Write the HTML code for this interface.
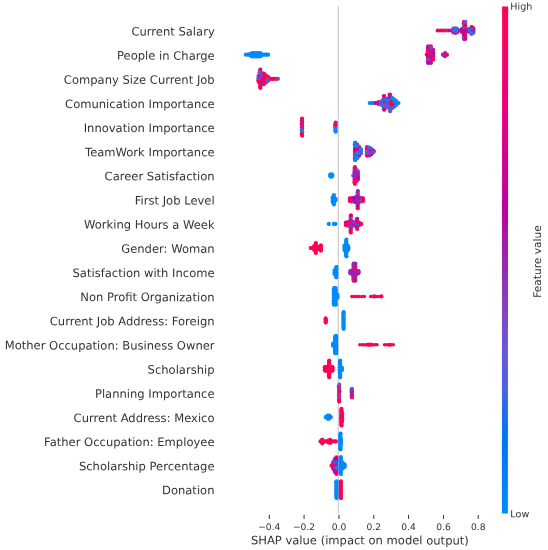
<!DOCTYPE html>
<html lang="en"><head><meta charset="utf-8"><title>SHAP summary plot</title>
<style>
html,body{margin:0;padding:0;background:#fff;}
body{width:548px;height:550px;overflow:hidden;}
svg{display:block;}
text{font-family:"DejaVu Sans","Liberation Sans",sans-serif;fill:#333;}
.lab{font-size:11.55px;text-anchor:end;}
.tick{font-size:9.15px;text-anchor:middle;}
.xl{font-size:11.55px;text-anchor:middle;}
.cb{font-size:9.6px;}
</style></head><body>
<svg width="548" height="550" viewBox="0 0 548 550">
<rect width="548" height="550" fill="#fff"/>
<defs><linearGradient id="cb" x1="0" y1="0" x2="0" y2="1"><stop offset="0%" stop-color="#ff0051"/><stop offset="5%" stop-color="#fe005c"/><stop offset="10%" stop-color="#f90067"/><stop offset="15%" stop-color="#f20072"/><stop offset="20%" stop-color="#e9007c"/><stop offset="25%" stop-color="#e00086"/><stop offset="30%" stop-color="#d5008f"/><stop offset="35%" stop-color="#c90098"/><stop offset="40%" stop-color="#bb00a0"/><stop offset="45%" stop-color="#ac16a7"/><stop offset="50%" stop-color="#9b24ad"/><stop offset="55%" stop-color="#9135ba"/><stop offset="60%" stop-color="#8443c6"/><stop offset="65%" stop-color="#754fd1"/><stop offset="70%" stop-color="#635adb"/><stop offset="75%" stop-color="#4b63e3"/><stop offset="80%" stop-color="#246cea"/><stop offset="85%" stop-color="#0075f0"/><stop offset="90%" stop-color="#007cf5"/><stop offset="95%" stop-color="#0084f9"/><stop offset="100%" stop-color="#008bfb"/></linearGradient></defs>
<line x1="338.25" y1="6.1" x2="338.25" y2="513.4" stroke="#999" stroke-width="1" opacity="0.62"/>
<g transform="rotate(0.03 274 275)">
<text class="lab" x="214.6" y="35.5">Current Salary</text>
<text class="lab" x="214.6" y="59.7">People in Charge</text>
<text class="lab" x="214.6" y="83.8">Company Size Current Job</text>
<text class="lab" x="214.6" y="108.0">Comunication Importance</text>
<text class="lab" x="214.6" y="132.1">Innovation Importance</text>
<text class="lab" x="214.6" y="156.3">TeamWork Importance</text>
<text class="lab" x="214.6" y="180.4">Career Satisfaction</text>
<text class="lab" x="214.6" y="204.6">First Job Level</text>
<text class="lab" x="214.6" y="228.7">Working Hours a Week</text>
<text class="lab" x="214.6" y="252.9">Gender: Woman</text>
<text class="lab" x="214.6" y="277.1">Satisfaction with Income</text>
<text class="lab" x="214.6" y="301.2">Non Profit Organization</text>
<text class="lab" x="214.6" y="325.4">Current Job Address: Foreign</text>
<text class="lab" x="214.6" y="349.5">Mother Occupation: Business Owner</text>
<text class="lab" x="214.6" y="373.7">Scholarship</text>
<text class="lab" x="214.6" y="397.8">Planning Importance</text>
<text class="lab" x="214.6" y="422.0">Current Address: Mexico</text>
<text class="lab" x="214.6" y="446.1">Father Occupation: Employee</text>
<text class="lab" x="214.6" y="470.3">Scholarship Percentage</text>
<text class="lab" x="214.6" y="494.4">Donation</text>
<line x1="269.4" y1="514.8" x2="269.4" y2="518.9" stroke="#333" stroke-width="1"/><text class="tick" x="269.4" y="530.0">−0.4</text>
<line x1="304.2" y1="514.8" x2="304.2" y2="518.9" stroke="#333" stroke-width="1"/><text class="tick" x="304.2" y="530.0">−0.2</text>
<line x1="339.1" y1="514.8" x2="339.1" y2="518.9" stroke="#333" stroke-width="1"/><text class="tick" x="339.1" y="530.0">0.0</text>
<line x1="373.9" y1="514.8" x2="373.9" y2="518.9" stroke="#333" stroke-width="1"/><text class="tick" x="373.9" y="530.0">0.2</text>
<line x1="408.7" y1="514.8" x2="408.7" y2="518.9" stroke="#333" stroke-width="1"/><text class="tick" x="408.7" y="530.0">0.4</text>
<line x1="443.6" y1="514.8" x2="443.6" y2="518.9" stroke="#333" stroke-width="1"/><text class="tick" x="443.6" y="530.0">0.6</text>
<line x1="478.4" y1="514.8" x2="478.4" y2="518.9" stroke="#333" stroke-width="1"/><text class="tick" x="478.4" y="530.0">0.8</text>
<text class="xl" x="360" y="544.3">SHAP value (impact on model output)</text>
<rect x="502" y="6.4" width="6" height="507.1" fill="url(#cb)"/>
<text class="cb" x="510.2" y="9.6">High</text>
<text class="cb" x="510.5" y="517.1">Low</text>
<text class="cb" style="font-size:10.62px;text-anchor:middle" transform="translate(540.9,261.4) rotate(-90)">Feature value</text>
</g>
<g style="filter:blur(0.35px)">
<circle cx="465.0" cy="23.6" r="2.10" fill="#9b24ad"/>
<circle cx="464.1" cy="25.3" r="2.10" fill="#6e53d5"/>
<circle cx="437.7" cy="30.5" r="2.10" fill="#ff0051"/>
<circle cx="467.0" cy="31.6" r="2.10" fill="#4b63e3"/>
<circle cx="464.1" cy="39.1" r="2.10" fill="#ff0051"/>
<circle cx="464.9" cy="27.1" r="2.10" fill="#ff0058"/>
<circle cx="464.9" cy="30.5" r="2.10" fill="#4b63e3"/>
<circle cx="461.8" cy="31.8" r="2.10" fill="#ff0058"/>
<circle cx="464.0" cy="32.2" r="2.10" fill="#e60080"/>
<circle cx="465.0" cy="33.9" r="2.10" fill="#ff0051"/>
<circle cx="463.7" cy="37.4" r="2.10" fill="#8443c6"/>
<circle cx="462.0" cy="29.2" r="2.10" fill="#bb00a0"/>
<circle cx="465.2" cy="39.1" r="2.10" fill="#9b24ad"/>
<circle cx="465.3" cy="28.8" r="2.10" fill="#8443c6"/>
<circle cx="463.7" cy="30.5" r="2.10" fill="#9b24ad"/>
<circle cx="442.6" cy="30.5" r="2.10" fill="#9b24ad"/>
<circle cx="467.1" cy="29.4" r="2.10" fill="#ff0051"/>
<circle cx="467.0" cy="30.5" r="2.10" fill="#9b24ad"/>
<circle cx="463.7" cy="23.6" r="2.10" fill="#4b63e3"/>
<circle cx="459.9" cy="30.5" r="2.10" fill="#9b24ad"/>
<circle cx="447.4" cy="30.5" r="2.10" fill="#4b63e3"/>
<circle cx="461.9" cy="30.5" r="2.10" fill="#bb00a0"/>
<circle cx="458.5" cy="30.5" r="2.10" fill="#ff0051"/>
<circle cx="465.0" cy="37.4" r="2.10" fill="#bb00a0"/>
<circle cx="464.0" cy="28.8" r="2.10" fill="#bb00a0"/>
<circle cx="445.0" cy="30.5" r="2.10" fill="#ff0051"/>
<circle cx="464.1" cy="35.7" r="2.10" fill="#6e53d5"/>
<circle cx="449.5" cy="30.5" r="2.10" fill="#d00093"/>
<circle cx="464.0" cy="21.9" r="2.10" fill="#ff0051"/>
<circle cx="463.8" cy="27.1" r="2.10" fill="#4b63e3"/>
<circle cx="465.2" cy="35.7" r="2.10" fill="#ff0051"/>
<circle cx="440.1" cy="30.5" r="2.10" fill="#ff0051"/>
<circle cx="465.3" cy="21.9" r="2.10" fill="#6e53d5"/>
<circle cx="465.2" cy="25.3" r="2.10" fill="#ff0051"/>
<circle cx="463.7" cy="33.9" r="2.10" fill="#bb00a0"/>
<circle cx="465.3" cy="32.2" r="2.10" fill="#d00093"/>
<circle cx="452.3" cy="30.5" r="2.10" fill="#9b24ad"/>
<circle cx="453.4" cy="28.5" r="2.10" fill="#9135ba"/>
<circle cx="453.4" cy="32.5" r="2.10" fill="#f90067"/>
<circle cx="455.4" cy="28.3" r="2.10" fill="#754fd1"/>
<circle cx="455.2" cy="32.8" r="2.10" fill="#9b24ad"/>
<circle cx="457.0" cy="28.9" r="2.10" fill="#8443c6"/>
<circle cx="457.0" cy="32.4" r="2.10" fill="#f90067"/>
<circle cx="454.5" cy="30.5" r="2.10" fill="#635adb"/>
<circle cx="456.2" cy="30.9" r="2.10" fill="#008bfb"/>
<circle cx="455.3" cy="29.9" r="2.10" fill="#0084f9"/>
<circle cx="469.6" cy="29.0" r="2.10" fill="#8443c6"/>
<circle cx="469.6" cy="32.1" r="2.10" fill="#9135ba"/>
<circle cx="471.5" cy="27.1" r="2.10" fill="#9b24ad"/>
<circle cx="471.5" cy="33.9" r="2.10" fill="#8443c6"/>
<circle cx="473.4" cy="28.5" r="2.10" fill="#f90067"/>
<circle cx="473.4" cy="32.7" r="2.10" fill="#754fd1"/>
<circle cx="472.6" cy="27.7" r="2.10" fill="#ff0051"/>
<circle cx="470.6" cy="30.8" r="2.10" fill="#008bfb"/>
<circle cx="472.2" cy="32.7" r="2.10" fill="#008bfb"/>
<circle cx="471.8" cy="30.0" r="2.10" fill="#007cf5"/>
<circle cx="473.5" cy="30.7" r="2.10" fill="#9b24ad"/>
<circle cx="250.4" cy="54.7" r="2.10" fill="#008bfb"/>
<circle cx="433.2" cy="53.0" r="2.10" fill="#ff0051"/>
<circle cx="250.4" cy="53.8" r="2.10" fill="#0086fa"/>
<circle cx="428.2" cy="56.3" r="2.10" fill="#ff0051"/>
<circle cx="258.5" cy="54.7" r="2.10" fill="#008bfb"/>
<circle cx="268.1" cy="54.7" r="2.10" fill="#008bfb"/>
<circle cx="264.5" cy="54.7" r="2.10" fill="#008bfb"/>
<circle cx="428.2" cy="46.4" r="2.10" fill="#9b24ad"/>
<circle cx="260.6" cy="56.2" r="2.10" fill="#008bfb"/>
<circle cx="426.8" cy="54.7" r="2.10" fill="#ff0051"/>
<circle cx="262.5" cy="54.7" r="2.10" fill="#008bfb"/>
<circle cx="430.7" cy="58.0" r="2.10" fill="#ff0051"/>
<circle cx="252.4" cy="53.0" r="2.10" fill="#008bfb"/>
<circle cx="256.5" cy="53.0" r="2.10" fill="#008bfb"/>
<circle cx="258.5" cy="53.0" r="2.10" fill="#008bfb"/>
<circle cx="433.0" cy="54.7" r="2.10" fill="#bb00a0"/>
<circle cx="250.5" cy="55.6" r="2.10" fill="#008bfb"/>
<circle cx="256.5" cy="56.4" r="2.10" fill="#0086fa"/>
<circle cx="260.4" cy="53.2" r="2.10" fill="#008bfb"/>
<circle cx="431.0" cy="59.7" r="2.10" fill="#9b24ad"/>
<circle cx="442.9" cy="54.7" r="2.10" fill="#9b24ad"/>
<circle cx="260.5" cy="54.7" r="2.10" fill="#008bfb"/>
<circle cx="252.5" cy="56.4" r="2.10" fill="#008bfb"/>
<circle cx="258.6" cy="56.4" r="2.10" fill="#008bfb"/>
<circle cx="432.9" cy="51.4" r="2.10" fill="#bb00a0"/>
<circle cx="427.9" cy="51.4" r="2.10" fill="#ff0051"/>
<circle cx="427.9" cy="61.3" r="2.10" fill="#9b24ad"/>
<circle cx="430.9" cy="46.4" r="2.10" fill="#ff0051"/>
<circle cx="430.9" cy="63.0" r="2.10" fill="#9b24ad"/>
<circle cx="427.8" cy="58.0" r="2.10" fill="#ff0051"/>
<circle cx="427.8" cy="48.0" r="2.10" fill="#bb00a0"/>
<circle cx="256.4" cy="54.7" r="2.10" fill="#008bfb"/>
<circle cx="428.1" cy="49.7" r="2.10" fill="#ff0058"/>
<circle cx="430.6" cy="61.3" r="2.10" fill="#e60080"/>
<circle cx="428.2" cy="59.7" r="2.10" fill="#8443c6"/>
<circle cx="252.6" cy="54.7" r="2.10" fill="#0086fa"/>
<circle cx="245.9" cy="54.7" r="2.10" fill="#008bfb"/>
<circle cx="432.9" cy="57.9" r="2.10" fill="#bb00a0"/>
<circle cx="433.2" cy="59.6" r="2.10" fill="#ff0051"/>
<circle cx="431.0" cy="53.0" r="2.10" fill="#ff0058"/>
<circle cx="428.2" cy="63.0" r="2.10" fill="#bb00a0"/>
<circle cx="433.3" cy="49.8" r="2.10" fill="#9b24ad"/>
<circle cx="266.5" cy="54.7" r="2.10" fill="#0086fa"/>
<circle cx="430.9" cy="56.3" r="2.10" fill="#bb00a0"/>
<circle cx="427.8" cy="54.7" r="2.10" fill="#bb00a0"/>
<circle cx="430.9" cy="49.7" r="2.10" fill="#ff0051"/>
<circle cx="430.7" cy="51.4" r="2.10" fill="#9b24ad"/>
<circle cx="433.2" cy="56.3" r="2.10" fill="#e60080"/>
<circle cx="430.6" cy="54.7" r="2.10" fill="#9b24ad"/>
<circle cx="428.1" cy="53.0" r="2.10" fill="#ff0051"/>
<circle cx="430.6" cy="48.0" r="2.10" fill="#8443c6"/>
<circle cx="254.5" cy="54.7" r="2.10" fill="#0086fa"/>
<circle cx="248.1" cy="54.7" r="2.10" fill="#008bfb"/>
<circle cx="254.6" cy="53.0" r="2.10" fill="#008bfb"/>
<circle cx="446.9" cy="54.7" r="2.10" fill="#ff0051"/>
<circle cx="254.5" cy="56.4" r="2.10" fill="#008bfb"/>
<circle cx="445.1" cy="53.2" r="2.10" fill="#ff0051"/>
<circle cx="445.0" cy="54.7" r="2.10" fill="#9b24ad"/>
<circle cx="445.0" cy="56.2" r="2.10" fill="#f90067"/>
<circle cx="444.2" cy="55.0" r="2.10" fill="#9b24ad"/>
<circle cx="263.5" cy="82.8" r="2.10" fill="#ff0051"/>
<circle cx="265.7" cy="80.6" r="2.10" fill="#ff0051"/>
<circle cx="262.1" cy="81.6" r="2.10" fill="#ff0051"/>
<circle cx="265.9" cy="75.3" r="2.10" fill="#ff0058"/>
<circle cx="263.6" cy="74.9" r="2.10" fill="#ff0051"/>
<circle cx="263.8" cy="78.8" r="2.10" fill="#ff0051"/>
<circle cx="261.8" cy="74.7" r="2.10" fill="#ff0051"/>
<circle cx="258.5" cy="80.3" r="2.10" fill="#ff0051"/>
<circle cx="262.1" cy="73.3" r="2.10" fill="#ff0051"/>
<circle cx="260.0" cy="77.3" r="2.10" fill="#ff0058"/>
<circle cx="263.5" cy="80.2" r="2.10" fill="#ff0051"/>
<circle cx="260.4" cy="81.9" r="2.10" fill="#ff0051"/>
<circle cx="270.5" cy="78.8" r="2.10" fill="#ff0051"/>
<circle cx="266.0" cy="82.3" r="2.10" fill="#ff0051"/>
<circle cx="260.0" cy="80.4" r="2.10" fill="#ff0051"/>
<circle cx="260.4" cy="78.8" r="2.10" fill="#ff0051"/>
<circle cx="268.3" cy="77.1" r="2.10" fill="#ff0051"/>
<circle cx="263.9" cy="73.5" r="2.10" fill="#ff0051"/>
<circle cx="262.1" cy="78.8" r="2.10" fill="#ff0051"/>
<circle cx="272.5" cy="78.8" r="2.10" fill="#ff0051"/>
<circle cx="261.9" cy="80.2" r="2.10" fill="#ff0051"/>
<circle cx="265.6" cy="77.1" r="2.10" fill="#ff0058"/>
<circle cx="268.2" cy="80.5" r="2.10" fill="#ff0051"/>
<circle cx="261.8" cy="83.0" r="2.10" fill="#ff0051"/>
<circle cx="262.2" cy="76.1" r="2.10" fill="#ff0051"/>
<circle cx="260.3" cy="75.8" r="2.10" fill="#ff0051"/>
<circle cx="260.1" cy="71.2" r="2.10" fill="#ff0051"/>
<circle cx="263.5" cy="77.5" r="2.10" fill="#ff0058"/>
<circle cx="258.7" cy="77.4" r="2.10" fill="#ff0051"/>
<circle cx="274.4" cy="78.8" r="2.10" fill="#ff0051"/>
<circle cx="276.3" cy="78.8" r="2.10" fill="#ff0051"/>
<circle cx="268.3" cy="78.8" r="2.10" fill="#ff0051"/>
<circle cx="260.4" cy="85.0" r="2.10" fill="#ff0051"/>
<circle cx="263.8" cy="81.5" r="2.10" fill="#ff0051"/>
<circle cx="258.5" cy="78.8" r="2.10" fill="#ff0051"/>
<circle cx="260.0" cy="74.2" r="2.10" fill="#9b24ad"/>
<circle cx="260.4" cy="88.0" r="2.10" fill="#ff0058"/>
<circle cx="262.2" cy="84.3" r="2.10" fill="#ff0051"/>
<circle cx="263.8" cy="84.1" r="2.10" fill="#ff0051"/>
<circle cx="261.8" cy="77.5" r="2.10" fill="#ff0051"/>
<circle cx="258.7" cy="75.9" r="2.10" fill="#ff0058"/>
<circle cx="263.9" cy="76.2" r="2.10" fill="#ff0051"/>
<circle cx="260.3" cy="72.7" r="2.10" fill="#9b24ad"/>
<circle cx="277.9" cy="78.8" r="2.10" fill="#8443c6"/>
<circle cx="258.6" cy="81.7" r="2.10" fill="#ff0051"/>
<circle cx="260.1" cy="83.4" r="2.10" fill="#ff0051"/>
<circle cx="265.9" cy="78.8" r="2.10" fill="#ff0058"/>
<circle cx="260.3" cy="69.6" r="2.10" fill="#ff0051"/>
<circle cx="260.1" cy="86.5" r="2.10" fill="#ff0058"/>
<circle cx="258.8" cy="78.0" r="2.10" fill="#008bfb"/>
<circle cx="259.6" cy="72.3" r="2.10" fill="#635adb"/>
<circle cx="260.6" cy="74.6" r="2.10" fill="#754fd1"/>
<circle cx="260.3" cy="77.3" r="2.10" fill="#9135ba"/>
<circle cx="268.0" cy="79.1" r="2.10" fill="#8443c6"/>
<circle cx="267.6" cy="80.8" r="2.10" fill="#635adb"/>
<circle cx="261.0" cy="84.3" r="2.10" fill="#9b24ad"/>
<circle cx="385.7" cy="100.1" r="2.10" fill="#0086fa"/>
<circle cx="396.2" cy="104.9" r="2.10" fill="#008bfb"/>
<circle cx="390.3" cy="94.8" r="2.10" fill="#008bfb"/>
<circle cx="389.9" cy="103.0" r="2.10" fill="#0086fa"/>
<circle cx="396.1" cy="103.0" r="2.10" fill="#008bfb"/>
<circle cx="390.2" cy="98.1" r="2.10" fill="#bb00a0"/>
<circle cx="384.1" cy="109.6" r="2.10" fill="#9b24ad"/>
<circle cx="383.8" cy="98.1" r="2.10" fill="#4b63e3"/>
<circle cx="385.7" cy="105.9" r="2.10" fill="#0086fa"/>
<circle cx="378.7" cy="103.9" r="2.10" fill="#ff0058"/>
<circle cx="390.2" cy="111.2" r="2.10" fill="#6e53d5"/>
<circle cx="382.4" cy="100.6" r="2.10" fill="#008bfb"/>
<circle cx="385.9" cy="104.5" r="2.10" fill="#4b63e3"/>
<circle cx="390.0" cy="99.7" r="2.10" fill="#0086fa"/>
<circle cx="374.1" cy="103.0" r="2.10" fill="#ff0051"/>
<circle cx="369.8" cy="103.0" r="2.10" fill="#008bfb"/>
<circle cx="392.4" cy="101.4" r="2.10" fill="#4b63e3"/>
<circle cx="390.2" cy="107.9" r="2.10" fill="#008bfb"/>
<circle cx="384.2" cy="99.7" r="2.10" fill="#6e53d5"/>
<circle cx="392.1" cy="106.3" r="2.10" fill="#6e53d5"/>
<circle cx="388.0" cy="98.6" r="2.10" fill="#bb00a0"/>
<circle cx="376.3" cy="103.0" r="2.10" fill="#bb00a0"/>
<circle cx="390.3" cy="101.4" r="2.10" fill="#8443c6"/>
<circle cx="389.9" cy="106.3" r="2.10" fill="#ff0051"/>
<circle cx="383.8" cy="108.0" r="2.10" fill="#0086fa"/>
<circle cx="392.1" cy="99.7" r="2.10" fill="#ff0051"/>
<circle cx="394.0" cy="104.7" r="2.10" fill="#008bfb"/>
<circle cx="382.4" cy="103.0" r="2.10" fill="#ff0058"/>
<circle cx="380.6" cy="103.0" r="2.10" fill="#ff0051"/>
<circle cx="383.8" cy="101.4" r="2.10" fill="#6e53d5"/>
<circle cx="385.8" cy="101.6" r="2.10" fill="#008bfb"/>
<circle cx="380.6" cy="103.9" r="2.10" fill="#4b63e3"/>
<circle cx="394.3" cy="106.4" r="2.10" fill="#008bfb"/>
<circle cx="390.3" cy="104.7" r="2.10" fill="#4b63e3"/>
<circle cx="392.0" cy="103.0" r="2.10" fill="#8443c6"/>
<circle cx="398.4" cy="103.0" r="2.10" fill="#0086fa"/>
<circle cx="385.8" cy="103.0" r="2.10" fill="#6e53d5"/>
<circle cx="384.1" cy="103.0" r="2.10" fill="#ff0051"/>
<circle cx="387.7" cy="100.1" r="2.10" fill="#008bfb"/>
<circle cx="387.7" cy="105.9" r="2.10" fill="#0086fa"/>
<circle cx="378.6" cy="102.1" r="2.10" fill="#ff0058"/>
<circle cx="392.4" cy="107.9" r="2.10" fill="#6e53d5"/>
<circle cx="394.3" cy="103.0" r="2.10" fill="#6e53d5"/>
<circle cx="372.1" cy="103.0" r="2.10" fill="#0086fa"/>
<circle cx="387.7" cy="103.0" r="2.10" fill="#6e53d5"/>
<circle cx="378.7" cy="103.0" r="2.10" fill="#9b24ad"/>
<circle cx="384.1" cy="106.3" r="2.10" fill="#4b63e3"/>
<circle cx="382.3" cy="105.4" r="2.10" fill="#008bfb"/>
<circle cx="390.0" cy="96.5" r="2.10" fill="#9b24ad"/>
<circle cx="380.6" cy="102.1" r="2.10" fill="#4b63e3"/>
<circle cx="392.4" cy="104.6" r="2.10" fill="#9b24ad"/>
<circle cx="394.4" cy="99.6" r="2.10" fill="#008bfb"/>
<circle cx="394.1" cy="101.3" r="2.10" fill="#4b63e3"/>
<circle cx="387.9" cy="101.5" r="2.10" fill="#0086fa"/>
<circle cx="396.2" cy="101.1" r="2.10" fill="#008bfb"/>
<circle cx="388.0" cy="107.4" r="2.10" fill="#6e53d5"/>
<circle cx="392.3" cy="98.1" r="2.10" fill="#008bfb"/>
<circle cx="383.8" cy="104.7" r="2.10" fill="#6e53d5"/>
<circle cx="388.0" cy="104.5" r="2.10" fill="#4b63e3"/>
<circle cx="390.0" cy="109.6" r="2.10" fill="#4b63e3"/>
<circle cx="384.1" cy="96.4" r="2.10" fill="#6e53d5"/>
<circle cx="390.3" cy="103.3" r="2.10" fill="#ff0051"/>
<circle cx="391.2" cy="103.8" r="2.10" fill="#fe005c"/>
<circle cx="384.0" cy="96.0" r="2.10" fill="#f90067"/>
<circle cx="389.6" cy="94.5" r="2.10" fill="#e9007c"/>
<circle cx="384.3" cy="109.5" r="2.10" fill="#f90067"/>
<circle cx="302.1" cy="118.7" r="2.10" fill="#ff0051"/>
<circle cx="301.9" cy="120.4" r="2.10" fill="#ff0051"/>
<circle cx="302.2" cy="122.1" r="2.10" fill="#ac16a7"/>
<circle cx="301.8" cy="123.8" r="2.10" fill="#9b24ad"/>
<circle cx="302.2" cy="125.5" r="2.10" fill="#ff0051"/>
<circle cx="301.9" cy="127.2" r="2.10" fill="#ff0051"/>
<circle cx="302.2" cy="128.9" r="2.10" fill="#9135ba"/>
<circle cx="301.8" cy="130.6" r="2.10" fill="#007cf5"/>
<circle cx="302.1" cy="132.3" r="2.10" fill="#008bfb"/>
<circle cx="301.8" cy="134.0" r="2.10" fill="#ff0051"/>
<circle cx="302.2" cy="135.7" r="2.10" fill="#ff0051"/>
<circle cx="335.7" cy="122.7" r="2.10" fill="#9b24ad"/>
<circle cx="335.3" cy="124.2" r="2.10" fill="#9b24ad"/>
<circle cx="335.6" cy="125.7" r="2.10" fill="#ff0051"/>
<circle cx="335.3" cy="127.2" r="2.10" fill="#fe005c"/>
<circle cx="335.6" cy="128.7" r="2.10" fill="#008bfb"/>
<circle cx="335.3" cy="130.2" r="2.10" fill="#008bfb"/>
<circle cx="335.7" cy="131.7" r="2.10" fill="#008bfb"/>
<circle cx="361.0" cy="153.5" r="2.10" fill="#4b63e3"/>
<circle cx="367.1" cy="155.7" r="2.10" fill="#ff0051"/>
<circle cx="357.1" cy="144.5" r="2.10" fill="#ff0051"/>
<circle cx="358.8" cy="148.4" r="2.10" fill="#008bfb"/>
<circle cx="355.1" cy="146.2" r="2.10" fill="#008bfb"/>
<circle cx="356.9" cy="156.5" r="2.10" fill="#6e53d5"/>
<circle cx="354.9" cy="151.4" r="2.10" fill="#0086fa"/>
<circle cx="367.1" cy="147.1" r="2.10" fill="#ff0058"/>
<circle cx="369.2" cy="155.3" r="2.10" fill="#ff0051"/>
<circle cx="358.8" cy="151.4" r="2.10" fill="#008bfb"/>
<circle cx="370.9" cy="148.5" r="2.10" fill="#ff0058"/>
<circle cx="368.8" cy="149.4" r="2.10" fill="#ff0051"/>
<circle cx="361.0" cy="151.4" r="2.10" fill="#6e53d5"/>
<circle cx="371.0" cy="152.8" r="2.10" fill="#ff0051"/>
<circle cx="354.9" cy="147.9" r="2.10" fill="#008bfb"/>
<circle cx="366.9" cy="148.5" r="2.10" fill="#9b24ad"/>
<circle cx="354.8" cy="144.5" r="2.10" fill="#6e53d5"/>
<circle cx="354.9" cy="158.2" r="2.10" fill="#9b24ad"/>
<circle cx="357.2" cy="147.9" r="2.10" fill="#6e53d5"/>
<circle cx="367.1" cy="149.9" r="2.10" fill="#ff0051"/>
<circle cx="359.1" cy="149.9" r="2.10" fill="#6e53d5"/>
<circle cx="357.1" cy="154.8" r="2.10" fill="#6e53d5"/>
<circle cx="358.9" cy="154.3" r="2.10" fill="#008bfb"/>
<circle cx="366.9" cy="154.2" r="2.10" fill="#ff0058"/>
<circle cx="357.1" cy="151.4" r="2.10" fill="#8443c6"/>
<circle cx="370.9" cy="149.9" r="2.10" fill="#4b63e3"/>
<circle cx="359.1" cy="155.8" r="2.10" fill="#9b24ad"/>
<circle cx="359.2" cy="147.0" r="2.10" fill="#ff0051"/>
<circle cx="355.1" cy="160.0" r="2.10" fill="#6e53d5"/>
<circle cx="373.8" cy="151.4" r="2.10" fill="#ff0051"/>
<circle cx="367.1" cy="152.8" r="2.10" fill="#8443c6"/>
<circle cx="371.1" cy="154.3" r="2.10" fill="#bb00a0"/>
<circle cx="369.1" cy="151.4" r="2.10" fill="#bb00a0"/>
<circle cx="355.2" cy="142.8" r="2.10" fill="#6e53d5"/>
<circle cx="356.8" cy="149.6" r="2.10" fill="#ff0058"/>
<circle cx="373.1" cy="151.4" r="2.10" fill="#4b63e3"/>
<circle cx="359.1" cy="152.8" r="2.10" fill="#6e53d5"/>
<circle cx="356.8" cy="146.2" r="2.10" fill="#008bfb"/>
<circle cx="369.2" cy="147.5" r="2.10" fill="#4b63e3"/>
<circle cx="373.0" cy="150.3" r="2.10" fill="#9b24ad"/>
<circle cx="357.1" cy="158.3" r="2.10" fill="#008bfb"/>
<circle cx="355.2" cy="149.6" r="2.10" fill="#bb00a0"/>
<circle cx="355.2" cy="153.1" r="2.10" fill="#ff0051"/>
<circle cx="354.8" cy="154.8" r="2.10" fill="#8443c6"/>
<circle cx="371.0" cy="151.4" r="2.10" fill="#9b24ad"/>
<circle cx="361.0" cy="149.3" r="2.10" fill="#008bfb"/>
<circle cx="373.1" cy="152.5" r="2.10" fill="#8443c6"/>
<circle cx="366.8" cy="151.4" r="2.10" fill="#6e53d5"/>
<circle cx="356.8" cy="153.1" r="2.10" fill="#008bfb"/>
<circle cx="368.9" cy="153.3" r="2.10" fill="#8443c6"/>
<circle cx="355.1" cy="156.5" r="2.10" fill="#8443c6"/>
<circle cx="355.3" cy="159.7" r="2.10" fill="#008bfb"/>
<circle cx="356.5" cy="157.9" r="2.10" fill="#008bfb"/>
<circle cx="355.2" cy="142.9" r="2.10" fill="#0084f9"/>
<circle cx="356.5" cy="171.9" r="2.10" fill="#8443c6"/>
<circle cx="358.1" cy="179.4" r="2.10" fill="#6e53d5"/>
<circle cx="358.1" cy="175.5" r="2.10" fill="#8443c6"/>
<circle cx="356.5" cy="175.5" r="2.10" fill="#bb00a0"/>
<circle cx="356.5" cy="179.1" r="2.10" fill="#4b63e3"/>
<circle cx="356.8" cy="173.7" r="2.10" fill="#6e53d5"/>
<circle cx="353.3" cy="175.5" r="2.10" fill="#8443c6"/>
<circle cx="356.7" cy="180.9" r="2.10" fill="#ff0051"/>
<circle cx="356.8" cy="177.3" r="2.10" fill="#9b24ad"/>
<circle cx="356.7" cy="170.1" r="2.10" fill="#8443c6"/>
<circle cx="358.2" cy="171.6" r="2.10" fill="#4b63e3"/>
<circle cx="357.9" cy="173.6" r="2.10" fill="#9b24ad"/>
<circle cx="357.8" cy="177.5" r="2.10" fill="#bb00a0"/>
<circle cx="354.9" cy="167.2" r="2.10" fill="#ff0051"/>
<circle cx="354.6" cy="168.9" r="2.10" fill="#ff0051"/>
<circle cx="354.8" cy="170.5" r="2.10" fill="#9b24ad"/>
<circle cx="354.5" cy="172.2" r="2.10" fill="#9b24ad"/>
<circle cx="354.8" cy="173.9" r="2.10" fill="#ac16a7"/>
<circle cx="354.5" cy="175.5" r="2.10" fill="#9135ba"/>
<circle cx="354.9" cy="177.2" r="2.10" fill="#9b24ad"/>
<circle cx="354.5" cy="178.8" r="2.10" fill="#9b24ad"/>
<circle cx="354.8" cy="180.5" r="2.10" fill="#f90067"/>
<circle cx="354.5" cy="182.2" r="2.10" fill="#ff0051"/>
<circle cx="354.9" cy="183.8" r="2.10" fill="#ff0051"/>
<circle cx="331.2" cy="175.5" r="3.15" fill="#008bfb"/>
<circle cx="335.4" cy="199.7" r="2.10" fill="#008bfb"/>
<circle cx="332.8" cy="199.7" r="2.10" fill="#008bfb"/>
<circle cx="359.6" cy="198.6" r="2.10" fill="#9b24ad"/>
<circle cx="335.5" cy="198.8" r="2.10" fill="#008bfb"/>
<circle cx="359.6" cy="200.7" r="2.10" fill="#bb00a0"/>
<circle cx="332.7" cy="197.3" r="2.10" fill="#008bfb"/>
<circle cx="355.8" cy="198.4" r="2.10" fill="#9b24ad"/>
<circle cx="333.7" cy="202.8" r="2.10" fill="#0086fa"/>
<circle cx="351.8" cy="199.7" r="2.10" fill="#8443c6"/>
<circle cx="355.7" cy="200.9" r="2.10" fill="#bb00a0"/>
<circle cx="332.7" cy="200.9" r="2.10" fill="#008bfb"/>
<circle cx="351.9" cy="201.4" r="2.10" fill="#d00093"/>
<circle cx="351.8" cy="198.0" r="2.10" fill="#8443c6"/>
<circle cx="332.8" cy="198.5" r="2.10" fill="#008bfb"/>
<circle cx="353.8" cy="201.4" r="2.10" fill="#8443c6"/>
<circle cx="355.8" cy="202.2" r="2.10" fill="#bb00a0"/>
<circle cx="333.9" cy="201.3" r="2.10" fill="#008bfb"/>
<circle cx="332.8" cy="202.1" r="2.10" fill="#0086fa"/>
<circle cx="353.7" cy="199.7" r="2.10" fill="#bb00a0"/>
<circle cx="355.9" cy="197.2" r="2.10" fill="#bb00a0"/>
<circle cx="333.9" cy="195.0" r="2.10" fill="#008bfb"/>
<circle cx="361.4" cy="201.4" r="2.10" fill="#8443c6"/>
<circle cx="335.4" cy="200.6" r="2.10" fill="#0086fa"/>
<circle cx="333.6" cy="196.6" r="2.10" fill="#008bfb"/>
<circle cx="359.5" cy="197.6" r="2.10" fill="#8443c6"/>
<circle cx="355.8" cy="199.7" r="2.10" fill="#9b24ad"/>
<circle cx="359.7" cy="199.7" r="2.10" fill="#bb00a0"/>
<circle cx="333.9" cy="204.4" r="2.10" fill="#008bfb"/>
<circle cx="359.5" cy="201.8" r="2.10" fill="#8443c6"/>
<circle cx="361.4" cy="198.0" r="2.10" fill="#9b24ad"/>
<circle cx="333.7" cy="199.7" r="2.10" fill="#008bfb"/>
<circle cx="361.3" cy="199.7" r="2.10" fill="#8443c6"/>
<circle cx="353.8" cy="198.0" r="2.10" fill="#bb00a0"/>
<circle cx="333.9" cy="198.1" r="2.10" fill="#0086fa"/>
<circle cx="349.8" cy="198.4" r="2.10" fill="#ff0051"/>
<circle cx="349.9" cy="199.7" r="2.10" fill="#ff0051"/>
<circle cx="349.8" cy="201.0" r="2.10" fill="#f90067"/>
<circle cx="357.9" cy="191.1" r="2.10" fill="#9b24ad"/>
<circle cx="357.6" cy="192.8" r="2.10" fill="#9b24ad"/>
<circle cx="357.9" cy="194.5" r="2.10" fill="#9135ba"/>
<circle cx="357.5" cy="196.2" r="2.10" fill="#9b24ad"/>
<circle cx="357.8" cy="198.0" r="2.10" fill="#ac16a7"/>
<circle cx="357.5" cy="199.7" r="2.10" fill="#9b24ad"/>
<circle cx="357.9" cy="201.4" r="2.10" fill="#9b24ad"/>
<circle cx="357.5" cy="203.1" r="2.10" fill="#9b24ad"/>
<circle cx="357.8" cy="204.8" r="2.10" fill="#9b24ad"/>
<circle cx="357.6" cy="206.6" r="2.10" fill="#bb00a0"/>
<circle cx="357.8" cy="208.3" r="2.10" fill="#ff0051"/>
<circle cx="363.0" cy="198.4" r="2.10" fill="#ff0051"/>
<circle cx="363.0" cy="199.7" r="2.10" fill="#ff0051"/>
<circle cx="363.1" cy="201.0" r="2.10" fill="#fe005c"/>
<circle cx="346.0" cy="223.9" r="2.10" fill="#ff0058"/>
<circle cx="359.0" cy="222.6" r="2.10" fill="#e60080"/>
<circle cx="345.9" cy="222.6" r="2.10" fill="#d00093"/>
<circle cx="359.0" cy="223.9" r="2.10" fill="#e60080"/>
<circle cx="348.1" cy="225.6" r="2.10" fill="#ff0058"/>
<circle cx="352.8" cy="223.9" r="2.10" fill="#d00093"/>
<circle cx="352.8" cy="222.2" r="2.10" fill="#e60080"/>
<circle cx="348.3" cy="223.9" r="2.10" fill="#e60080"/>
<circle cx="346.0" cy="225.2" r="2.10" fill="#ff0058"/>
<circle cx="361.2" cy="223.9" r="2.10" fill="#ff0051"/>
<circle cx="352.9" cy="225.6" r="2.10" fill="#d00093"/>
<circle cx="335.4" cy="223.9" r="2.10" fill="#0086fa"/>
<circle cx="359.1" cy="225.2" r="2.10" fill="#ff0051"/>
<circle cx="333.9" cy="223.9" r="2.10" fill="#008bfb"/>
<circle cx="354.8" cy="225.6" r="2.10" fill="#8443c6"/>
<circle cx="354.8" cy="223.9" r="2.10" fill="#d00093"/>
<circle cx="328.8" cy="223.9" r="2.10" fill="#008bfb"/>
<circle cx="348.2" cy="222.2" r="2.10" fill="#ff0051"/>
<circle cx="354.7" cy="222.2" r="2.10" fill="#8443c6"/>
<circle cx="350.9" cy="215.4" r="2.10" fill="#ff0051"/>
<circle cx="350.6" cy="217.1" r="2.10" fill="#d5008f"/>
<circle cx="350.8" cy="218.8" r="2.10" fill="#635adb"/>
<circle cx="350.5" cy="220.5" r="2.10" fill="#e00086"/>
<circle cx="350.8" cy="222.2" r="2.10" fill="#9b24ad"/>
<circle cx="350.5" cy="223.9" r="2.10" fill="#f90067"/>
<circle cx="350.8" cy="225.6" r="2.10" fill="#9b24ad"/>
<circle cx="350.6" cy="227.3" r="2.10" fill="#246cea"/>
<circle cx="350.9" cy="229.0" r="2.10" fill="#d5008f"/>
<circle cx="350.5" cy="230.7" r="2.10" fill="#ff0051"/>
<circle cx="350.8" cy="232.4" r="2.10" fill="#ff0051"/>
<circle cx="357.1" cy="218.8" r="2.10" fill="#d5008f"/>
<circle cx="356.8" cy="220.5" r="2.10" fill="#9b24ad"/>
<circle cx="357.2" cy="222.2" r="2.10" fill="#e9007c"/>
<circle cx="356.8" cy="223.9" r="2.10" fill="#e00086"/>
<circle cx="357.1" cy="225.6" r="2.10" fill="#007cf5"/>
<circle cx="356.8" cy="227.3" r="2.10" fill="#d5008f"/>
<circle cx="357.2" cy="229.0" r="2.10" fill="#f90067"/>
<circle cx="344.5" cy="248.0" r="2.10" fill="#0086fa"/>
<circle cx="315.9" cy="245.5" r="2.10" fill="#ff0051"/>
<circle cx="310.7" cy="248.0" r="2.10" fill="#ff0051"/>
<circle cx="344.7" cy="249.2" r="2.10" fill="#0086fa"/>
<circle cx="346.0" cy="252.2" r="2.10" fill="#008bfb"/>
<circle cx="347.7" cy="249.2" r="2.10" fill="#008bfb"/>
<circle cx="347.5" cy="248.0" r="2.10" fill="#0086fa"/>
<circle cx="346.3" cy="248.0" r="2.10" fill="#008bfb"/>
<circle cx="319.3" cy="248.9" r="2.10" fill="#ff0051"/>
<circle cx="319.1" cy="248.0" r="2.10" fill="#ff0051"/>
<circle cx="320.9" cy="250.7" r="2.10" fill="#ff0051"/>
<circle cx="315.7" cy="244.3" r="2.10" fill="#ff0058"/>
<circle cx="346.1" cy="241.1" r="2.10" fill="#008bfb"/>
<circle cx="346.3" cy="253.6" r="2.10" fill="#008bfb"/>
<circle cx="314.3" cy="249.9" r="2.10" fill="#ff0051"/>
<circle cx="320.8" cy="248.0" r="2.10" fill="#ff0058"/>
<circle cx="346.3" cy="242.5" r="2.10" fill="#008bfb"/>
<circle cx="347.6" cy="250.4" r="2.10" fill="#008bfb"/>
<circle cx="317.7" cy="247.1" r="2.10" fill="#ff0051"/>
<circle cx="344.5" cy="245.6" r="2.10" fill="#008bfb"/>
<circle cx="312.6" cy="248.0" r="2.10" fill="#ff0051"/>
<circle cx="348.7" cy="248.0" r="2.10" fill="#008bfb"/>
<circle cx="314.2" cy="248.0" r="2.10" fill="#ff0051"/>
<circle cx="346.1" cy="243.9" r="2.10" fill="#008bfb"/>
<circle cx="344.7" cy="250.4" r="2.10" fill="#008bfb"/>
<circle cx="346.3" cy="250.8" r="2.10" fill="#008bfb"/>
<circle cx="315.6" cy="249.3" r="2.10" fill="#ff0058"/>
<circle cx="320.8" cy="246.7" r="2.10" fill="#ff0051"/>
<circle cx="315.7" cy="246.8" r="2.10" fill="#ff0058"/>
<circle cx="346.0" cy="254.9" r="2.10" fill="#008bfb"/>
<circle cx="315.9" cy="243.0" r="2.10" fill="#ff0051"/>
<circle cx="346.4" cy="239.7" r="2.10" fill="#008bfb"/>
<circle cx="316.0" cy="250.5" r="2.10" fill="#ff0058"/>
<circle cx="315.6" cy="251.8" r="2.10" fill="#ff0058"/>
<circle cx="314.2" cy="246.1" r="2.10" fill="#ff0051"/>
<circle cx="320.9" cy="249.4" r="2.10" fill="#ff0051"/>
<circle cx="320.9" cy="245.3" r="2.10" fill="#ff0051"/>
<circle cx="317.5" cy="248.0" r="2.10" fill="#ff0058"/>
<circle cx="347.7" cy="245.6" r="2.10" fill="#008bfb"/>
<circle cx="347.7" cy="246.8" r="2.10" fill="#008bfb"/>
<circle cx="346.4" cy="256.3" r="2.10" fill="#008bfb"/>
<circle cx="315.9" cy="253.0" r="2.10" fill="#ff0051"/>
<circle cx="346.1" cy="246.6" r="2.10" fill="#008bfb"/>
<circle cx="346.0" cy="249.4" r="2.10" fill="#008bfb"/>
<circle cx="317.6" cy="248.9" r="2.10" fill="#ff0051"/>
<circle cx="315.9" cy="248.0" r="2.10" fill="#ff0051"/>
<circle cx="346.3" cy="245.3" r="2.10" fill="#008bfb"/>
<circle cx="319.2" cy="247.1" r="2.10" fill="#ff0051"/>
<circle cx="344.6" cy="246.8" r="2.10" fill="#008bfb"/>
<circle cx="355.1" cy="279.3" r="2.10" fill="#9b24ad"/>
<circle cx="355.0" cy="276.5" r="2.10" fill="#9b24ad"/>
<circle cx="336.3" cy="272.2" r="2.10" fill="#008bfb"/>
<circle cx="355.3" cy="275.0" r="2.10" fill="#9b24ad"/>
<circle cx="336.0" cy="273.5" r="2.10" fill="#008bfb"/>
<circle cx="353.7" cy="275.0" r="2.10" fill="#9b24ad"/>
<circle cx="355.0" cy="265.1" r="2.10" fill="#9b24ad"/>
<circle cx="336.3" cy="277.3" r="2.10" fill="#008bfb"/>
<circle cx="355.4" cy="263.7" r="2.10" fill="#9b24ad"/>
<circle cx="356.7" cy="273.9" r="2.10" fill="#9b24ad"/>
<circle cx="352.2" cy="273.9" r="2.10" fill="#9b24ad"/>
<circle cx="350.4" cy="272.2" r="2.10" fill="#9b24ad"/>
<circle cx="356.6" cy="272.2" r="2.10" fill="#9b24ad"/>
<circle cx="353.8" cy="269.4" r="2.10" fill="#9b24ad"/>
<circle cx="353.5" cy="279.3" r="2.10" fill="#9b24ad"/>
<circle cx="352.3" cy="272.2" r="2.10" fill="#9b24ad"/>
<circle cx="336.4" cy="267.1" r="2.10" fill="#0086fa"/>
<circle cx="355.3" cy="277.9" r="2.10" fill="#9b24ad"/>
<circle cx="355.4" cy="269.4" r="2.10" fill="#9b24ad"/>
<circle cx="336.1" cy="268.4" r="2.10" fill="#0086fa"/>
<circle cx="336.4" cy="269.7" r="2.10" fill="#008bfb"/>
<circle cx="353.5" cy="270.8" r="2.10" fill="#9b24ad"/>
<circle cx="334.6" cy="274.1" r="2.10" fill="#008bfb"/>
<circle cx="355.1" cy="270.8" r="2.10" fill="#9b24ad"/>
<circle cx="353.4" cy="265.1" r="2.10" fill="#9b24ad"/>
<circle cx="356.6" cy="270.5" r="2.10" fill="#9b24ad"/>
<circle cx="336.0" cy="270.9" r="2.10" fill="#008bfb"/>
<circle cx="353.4" cy="273.6" r="2.10" fill="#9b24ad"/>
<circle cx="336.4" cy="274.8" r="2.10" fill="#008bfb"/>
<circle cx="353.7" cy="277.9" r="2.10" fill="#9b24ad"/>
<circle cx="353.7" cy="263.7" r="2.10" fill="#9b24ad"/>
<circle cx="350.4" cy="273.3" r="2.10" fill="#9b24ad"/>
<circle cx="353.4" cy="276.5" r="2.10" fill="#9b24ad"/>
<circle cx="334.6" cy="272.2" r="2.10" fill="#0086fa"/>
<circle cx="334.6" cy="270.3" r="2.10" fill="#008bfb"/>
<circle cx="355.4" cy="266.5" r="2.10" fill="#9b24ad"/>
<circle cx="355.3" cy="272.2" r="2.10" fill="#9b24ad"/>
<circle cx="353.7" cy="280.7" r="2.10" fill="#9b24ad"/>
<circle cx="355.1" cy="268.0" r="2.10" fill="#9b24ad"/>
<circle cx="355.3" cy="280.7" r="2.10" fill="#9b24ad"/>
<circle cx="358.4" cy="273.3" r="2.10" fill="#9b24ad"/>
<circle cx="355.0" cy="273.6" r="2.10" fill="#9b24ad"/>
<circle cx="353.5" cy="268.0" r="2.10" fill="#9b24ad"/>
<circle cx="353.7" cy="272.2" r="2.10" fill="#9b24ad"/>
<circle cx="358.4" cy="272.2" r="2.10" fill="#9b24ad"/>
<circle cx="353.8" cy="266.5" r="2.10" fill="#9b24ad"/>
<circle cx="336.0" cy="276.0" r="2.10" fill="#008bfb"/>
<circle cx="350.4" cy="271.1" r="2.10" fill="#9b24ad"/>
<circle cx="358.6" cy="271.1" r="2.10" fill="#9b24ad"/>
<circle cx="352.1" cy="270.5" r="2.10" fill="#9b24ad"/>
<circle cx="354.6" cy="270.0" r="2.10" fill="#ff0051"/>
<circle cx="354.4" cy="279.8" r="2.10" fill="#ff0051"/>
<circle cx="333.8" cy="289.5" r="2.10" fill="#008bfb"/>
<circle cx="335.5" cy="292.2" r="2.10" fill="#0086fa"/>
<circle cx="334.1" cy="288.1" r="2.10" fill="#008bfb"/>
<circle cx="335.7" cy="290.8" r="2.10" fill="#008bfb"/>
<circle cx="335.7" cy="288.1" r="2.10" fill="#008bfb"/>
<circle cx="356.7" cy="296.4" r="1.75" fill="#ff0051"/>
<circle cx="337.4" cy="294.9" r="2.10" fill="#008bfb"/>
<circle cx="333.8" cy="292.2" r="2.10" fill="#008bfb"/>
<circle cx="354.4" cy="296.4" r="1.75" fill="#ff0051"/>
<circle cx="370.7" cy="296.4" r="1.75" fill="#ff0051"/>
<circle cx="359.3" cy="296.4" r="1.75" fill="#ff0051"/>
<circle cx="333.7" cy="303.3" r="2.10" fill="#008bfb"/>
<circle cx="334.0" cy="304.7" r="2.10" fill="#008bfb"/>
<circle cx="377.9" cy="296.4" r="1.75" fill="#ff0058"/>
<circle cx="335.8" cy="296.4" r="2.10" fill="#008bfb"/>
<circle cx="334.0" cy="296.4" r="2.10" fill="#008bfb"/>
<circle cx="361.8" cy="296.4" r="1.75" fill="#ff0051"/>
<circle cx="381.4" cy="296.4" r="2.10" fill="#ff0058"/>
<circle cx="337.5" cy="296.4" r="2.10" fill="#008bfb"/>
<circle cx="334.1" cy="293.6" r="2.10" fill="#0086fa"/>
<circle cx="333.8" cy="297.8" r="2.10" fill="#0086fa"/>
<circle cx="335.4" cy="295.0" r="2.10" fill="#008bfb"/>
<circle cx="375.5" cy="296.4" r="1.75" fill="#ff0051"/>
<circle cx="373.0" cy="296.4" r="1.75" fill="#ff0051"/>
<circle cx="335.8" cy="304.7" r="2.10" fill="#008bfb"/>
<circle cx="380.4" cy="296.4" r="1.75" fill="#ff0058"/>
<circle cx="333.7" cy="295.0" r="2.10" fill="#008bfb"/>
<circle cx="334.0" cy="301.9" r="2.10" fill="#008bfb"/>
<circle cx="335.7" cy="301.9" r="2.10" fill="#0086fa"/>
<circle cx="335.8" cy="293.6" r="2.10" fill="#0086fa"/>
<circle cx="335.7" cy="299.1" r="2.10" fill="#008bfb"/>
<circle cx="337.4" cy="297.9" r="2.10" fill="#008bfb"/>
<circle cx="333.7" cy="300.5" r="2.10" fill="#008bfb"/>
<circle cx="335.5" cy="297.8" r="2.10" fill="#008bfb"/>
<circle cx="335.4" cy="300.5" r="2.10" fill="#0086fa"/>
<circle cx="334.1" cy="290.8" r="2.10" fill="#0086fa"/>
<circle cx="364.3" cy="296.4" r="1.75" fill="#ff0051"/>
<circle cx="334.1" cy="299.1" r="2.10" fill="#008bfb"/>
<circle cx="351.9" cy="296.4" r="1.75" fill="#ff0051"/>
<circle cx="335.5" cy="289.5" r="2.10" fill="#008bfb"/>
<circle cx="374.2" cy="296.4" r="2.10" fill="#ff0051"/>
<circle cx="335.4" cy="303.3" r="2.10" fill="#008bfb"/>
<circle cx="325.6" cy="318.4" r="2.10" fill="#ff0051"/>
<circle cx="343.4" cy="321.9" r="2.10" fill="#008bfb"/>
<circle cx="343.6" cy="320.5" r="2.10" fill="#008bfb"/>
<circle cx="325.8" cy="320.5" r="2.10" fill="#ff0051"/>
<circle cx="343.7" cy="317.8" r="2.10" fill="#008bfb"/>
<circle cx="343.3" cy="324.7" r="2.10" fill="#0086fa"/>
<circle cx="343.3" cy="316.4" r="2.10" fill="#008bfb"/>
<circle cx="343.7" cy="326.1" r="2.10" fill="#008bfb"/>
<circle cx="343.7" cy="323.3" r="2.10" fill="#008bfb"/>
<circle cx="325.7" cy="319.5" r="2.10" fill="#ff0058"/>
<circle cx="343.4" cy="319.2" r="2.10" fill="#008bfb"/>
<circle cx="325.8" cy="322.6" r="2.10" fill="#ff0058"/>
<circle cx="343.3" cy="327.5" r="2.10" fill="#008bfb"/>
<circle cx="343.4" cy="313.6" r="2.10" fill="#008bfb"/>
<circle cx="343.7" cy="328.8" r="2.10" fill="#008bfb"/>
<circle cx="325.7" cy="321.6" r="2.10" fill="#ff0051"/>
<circle cx="343.6" cy="312.2" r="2.10" fill="#008bfb"/>
<circle cx="343.6" cy="315.0" r="2.10" fill="#008bfb"/>
<circle cx="333.2" cy="344.7" r="2.10" fill="#008bfb"/>
<circle cx="335.9" cy="349.0" r="2.10" fill="#008bfb"/>
<circle cx="335.3" cy="353.2" r="2.10" fill="#008bfb"/>
<circle cx="336.2" cy="336.2" r="2.10" fill="#0086fa"/>
<circle cx="366.4" cy="344.7" r="1.70" fill="#ff0051"/>
<circle cx="386.7" cy="344.7" r="1.70" fill="#ff0051"/>
<circle cx="362.1" cy="344.7" r="1.70" fill="#ff0051"/>
<circle cx="359.8" cy="344.7" r="1.70" fill="#ff0058"/>
<circle cx="335.9" cy="346.1" r="2.10" fill="#008bfb"/>
<circle cx="336.3" cy="350.4" r="2.10" fill="#008bfb"/>
<circle cx="335.9" cy="351.8" r="2.10" fill="#008bfb"/>
<circle cx="335.9" cy="343.3" r="2.10" fill="#008bfb"/>
<circle cx="335.9" cy="337.6" r="2.10" fill="#008bfb"/>
<circle cx="336.2" cy="353.2" r="2.10" fill="#008bfb"/>
<circle cx="335.1" cy="346.1" r="2.10" fill="#008bfb"/>
<circle cx="333.1" cy="345.8" r="2.10" fill="#0086fa"/>
<circle cx="373.0" cy="344.7" r="1.70" fill="#ff0051"/>
<circle cx="335.0" cy="349.0" r="2.10" fill="#008bfb"/>
<circle cx="335.0" cy="340.5" r="2.10" fill="#008bfb"/>
<circle cx="393.3" cy="344.7" r="1.70" fill="#ff0051"/>
<circle cx="335.4" cy="347.5" r="2.10" fill="#008bfb"/>
<circle cx="335.0" cy="351.8" r="2.10" fill="#008bfb"/>
<circle cx="388.9" cy="344.7" r="1.70" fill="#ff0051"/>
<circle cx="335.4" cy="341.9" r="2.10" fill="#008bfb"/>
<circle cx="364.2" cy="344.7" r="1.70" fill="#ff0058"/>
<circle cx="336.2" cy="339.0" r="2.10" fill="#008bfb"/>
<circle cx="391.0" cy="344.7" r="1.70" fill="#ff0051"/>
<circle cx="335.9" cy="340.5" r="2.10" fill="#008bfb"/>
<circle cx="377.1" cy="344.7" r="1.70" fill="#ff0051"/>
<circle cx="335.4" cy="344.7" r="2.10" fill="#008bfb"/>
<circle cx="384.5" cy="344.7" r="1.70" fill="#ff0051"/>
<circle cx="335.0" cy="337.6" r="2.10" fill="#008bfb"/>
<circle cx="335.3" cy="350.4" r="2.10" fill="#0086fa"/>
<circle cx="370.9" cy="344.7" r="1.70" fill="#ff0051"/>
<circle cx="333.2" cy="343.6" r="2.10" fill="#008bfb"/>
<circle cx="336.3" cy="344.7" r="2.10" fill="#008bfb"/>
<circle cx="368.7" cy="344.7" r="1.70" fill="#ff0051"/>
<circle cx="335.0" cy="343.3" r="2.10" fill="#008bfb"/>
<circle cx="336.2" cy="341.9" r="2.10" fill="#008bfb"/>
<circle cx="375.2" cy="344.7" r="1.70" fill="#ff0051"/>
<circle cx="335.3" cy="339.0" r="2.10" fill="#0086fa"/>
<circle cx="335.4" cy="336.2" r="2.10" fill="#008bfb"/>
<circle cx="336.2" cy="347.5" r="2.10" fill="#0086fa"/>
<circle cx="368.2" cy="344.7" r="2.10" fill="#ff0051"/>
<circle cx="371.0" cy="344.7" r="2.10" fill="#ff0051"/>
<circle cx="390.0" cy="344.7" r="2.00" fill="#ff0051"/>
<circle cx="331.0" cy="370.9" r="2.10" fill="#ff0051"/>
<circle cx="339.9" cy="375.9" r="2.10" fill="#008bfb"/>
<circle cx="326.9" cy="368.9" r="2.10" fill="#ff0051"/>
<circle cx="340.2" cy="374.5" r="2.10" fill="#008bfb"/>
<circle cx="326.9" cy="366.9" r="2.10" fill="#ff0051"/>
<circle cx="332.5" cy="370.6" r="2.10" fill="#ff0051"/>
<circle cx="330.9" cy="368.9" r="2.10" fill="#ff0051"/>
<circle cx="329.3" cy="371.6" r="2.10" fill="#ff0058"/>
<circle cx="329.0" cy="362.0" r="2.10" fill="#ff0051"/>
<circle cx="340.2" cy="377.3" r="2.10" fill="#008bfb"/>
<circle cx="339.8" cy="367.5" r="2.10" fill="#008bfb"/>
<circle cx="339.9" cy="373.1" r="2.10" fill="#008bfb"/>
<circle cx="329.3" cy="368.9" r="2.10" fill="#ff0051"/>
<circle cx="329.3" cy="374.4" r="2.10" fill="#ff0051"/>
<circle cx="331.0" cy="366.9" r="2.10" fill="#ff0051"/>
<circle cx="339.8" cy="364.7" r="2.10" fill="#008bfb"/>
<circle cx="329.0" cy="373.0" r="2.10" fill="#ff0051"/>
<circle cx="340.1" cy="363.3" r="2.10" fill="#008bfb"/>
<circle cx="329.2" cy="377.2" r="2.10" fill="#ff0058"/>
<circle cx="339.8" cy="370.3" r="2.10" fill="#008bfb"/>
<circle cx="340.1" cy="371.7" r="2.10" fill="#008bfb"/>
<circle cx="329.3" cy="366.1" r="2.10" fill="#ff0051"/>
<circle cx="324.9" cy="368.9" r="2.10" fill="#ff0051"/>
<circle cx="328.9" cy="370.3" r="2.10" fill="#ff0058"/>
<circle cx="326.8" cy="370.9" r="2.10" fill="#ff0058"/>
<circle cx="341.8" cy="370.2" r="2.10" fill="#008bfb"/>
<circle cx="340.2" cy="368.9" r="2.10" fill="#008bfb"/>
<circle cx="332.6" cy="367.2" r="2.10" fill="#ff0051"/>
<circle cx="328.9" cy="375.8" r="2.10" fill="#ff0051"/>
<circle cx="329.0" cy="364.7" r="2.10" fill="#ff0051"/>
<circle cx="340.2" cy="360.5" r="2.10" fill="#008bfb"/>
<circle cx="329.2" cy="363.3" r="2.10" fill="#ff0058"/>
<circle cx="332.6" cy="368.9" r="2.10" fill="#ff0051"/>
<circle cx="324.8" cy="367.2" r="2.10" fill="#ff0051"/>
<circle cx="341.8" cy="367.6" r="2.10" fill="#008bfb"/>
<circle cx="339.9" cy="361.9" r="2.10" fill="#0086fa"/>
<circle cx="324.9" cy="370.6" r="2.10" fill="#ff0051"/>
<circle cx="341.8" cy="368.9" r="2.10" fill="#008bfb"/>
<circle cx="329.2" cy="360.6" r="2.10" fill="#ff0058"/>
<circle cx="328.9" cy="367.5" r="2.10" fill="#ff0051"/>
<circle cx="340.2" cy="366.1" r="2.10" fill="#008bfb"/>
<circle cx="339.3" cy="384.7" r="2.10" fill="#754fd1"/>
<circle cx="338.9" cy="386.3" r="2.10" fill="#635adb"/>
<circle cx="339.2" cy="388.0" r="2.10" fill="#ff0051"/>
<circle cx="339.0" cy="389.7" r="2.10" fill="#754fd1"/>
<circle cx="339.3" cy="391.4" r="2.10" fill="#ff0051"/>
<circle cx="338.9" cy="393.1" r="2.10" fill="#f90067"/>
<circle cx="339.2" cy="394.7" r="2.10" fill="#754fd1"/>
<circle cx="339.0" cy="396.4" r="2.10" fill="#ff0051"/>
<circle cx="339.3" cy="398.1" r="2.10" fill="#635adb"/>
<circle cx="339.0" cy="399.8" r="2.10" fill="#ff0051"/>
<circle cx="339.2" cy="401.4" r="2.10" fill="#ff0051"/>
<circle cx="351.9" cy="388.8" r="2.10" fill="#007cf5"/>
<circle cx="351.6" cy="390.2" r="2.10" fill="#9135ba"/>
<circle cx="351.9" cy="391.6" r="2.10" fill="#9b24ad"/>
<circle cx="351.7" cy="393.1" r="2.10" fill="#9b24ad"/>
<circle cx="351.9" cy="394.5" r="2.10" fill="#ac16a7"/>
<circle cx="351.7" cy="395.9" r="2.10" fill="#9b24ad"/>
<circle cx="352.0" cy="397.4" r="2.10" fill="#f90067"/>
<circle cx="341.2" cy="413.1" r="2.10" fill="#ff0051"/>
<circle cx="342.1" cy="421.1" r="2.10" fill="#ff0051"/>
<circle cx="341.2" cy="421.4" r="2.10" fill="#ff0051"/>
<circle cx="327.6" cy="418.7" r="2.10" fill="#008bfb"/>
<circle cx="329.1" cy="418.7" r="2.10" fill="#008bfb"/>
<circle cx="341.9" cy="417.2" r="2.10" fill="#ff0058"/>
<circle cx="342.1" cy="415.9" r="2.10" fill="#ff0051"/>
<circle cx="341.2" cy="424.1" r="2.10" fill="#ff0051"/>
<circle cx="330.8" cy="417.2" r="2.10" fill="#0086fa"/>
<circle cx="342.2" cy="413.3" r="2.10" fill="#ff0058"/>
<circle cx="341.2" cy="418.6" r="2.10" fill="#ff0058"/>
<circle cx="327.6" cy="417.2" r="2.10" fill="#008bfb"/>
<circle cx="341.5" cy="420.0" r="2.10" fill="#ff0058"/>
<circle cx="341.6" cy="425.5" r="2.10" fill="#ff0051"/>
<circle cx="341.6" cy="414.5" r="2.10" fill="#ff0058"/>
<circle cx="329.3" cy="415.7" r="2.10" fill="#008bfb"/>
<circle cx="341.8" cy="419.8" r="2.10" fill="#ff0051"/>
<circle cx="327.5" cy="415.7" r="2.10" fill="#008bfb"/>
<circle cx="341.6" cy="422.8" r="2.10" fill="#ff0051"/>
<circle cx="329.1" cy="417.2" r="2.10" fill="#0086fa"/>
<circle cx="341.2" cy="415.8" r="2.10" fill="#ff0051"/>
<circle cx="342.1" cy="418.5" r="2.10" fill="#ff0058"/>
<circle cx="341.5" cy="408.9" r="2.10" fill="#ff0051"/>
<circle cx="341.6" cy="411.7" r="2.10" fill="#ff0058"/>
<circle cx="325.8" cy="417.2" r="2.10" fill="#008bfb"/>
<circle cx="341.9" cy="414.6" r="2.10" fill="#ff0058"/>
<circle cx="341.3" cy="410.3" r="2.10" fill="#ff0051"/>
<circle cx="341.5" cy="417.2" r="2.10" fill="#ff0058"/>
<circle cx="330.1" cy="442.9" r="2.10" fill="#ff0051"/>
<circle cx="322.2" cy="439.5" r="2.10" fill="#ff0058"/>
<circle cx="330.2" cy="439.9" r="2.10" fill="#ff0058"/>
<circle cx="324.1" cy="441.4" r="2.10" fill="#ff0051"/>
<circle cx="334.2" cy="441.4" r="2.10" fill="#ff0051"/>
<circle cx="328.3" cy="440.5" r="2.10" fill="#ff0051"/>
<circle cx="340.6" cy="446.7" r="2.10" fill="#008bfb"/>
<circle cx="320.5" cy="441.4" r="2.10" fill="#ff0051"/>
<circle cx="340.9" cy="443.3" r="2.10" fill="#008bfb"/>
<circle cx="340.2" cy="448.0" r="2.10" fill="#008bfb"/>
<circle cx="340.6" cy="444.0" r="2.10" fill="#008bfb"/>
<circle cx="326.3" cy="441.4" r="2.10" fill="#ff0051"/>
<circle cx="335.9" cy="441.4" r="2.10" fill="#ff0051"/>
<circle cx="340.5" cy="436.1" r="2.10" fill="#008bfb"/>
<circle cx="340.3" cy="434.8" r="2.10" fill="#008bfb"/>
<circle cx="340.2" cy="445.3" r="2.10" fill="#008bfb"/>
<circle cx="340.6" cy="441.4" r="2.10" fill="#008bfb"/>
<circle cx="328.3" cy="441.4" r="2.10" fill="#ff0051"/>
<circle cx="340.2" cy="437.4" r="2.10" fill="#008bfb"/>
<circle cx="330.1" cy="441.4" r="2.10" fill="#ff0051"/>
<circle cx="328.3" cy="442.3" r="2.10" fill="#ff0051"/>
<circle cx="340.8" cy="441.4" r="2.10" fill="#008bfb"/>
<circle cx="340.3" cy="442.7" r="2.10" fill="#008bfb"/>
<circle cx="322.3" cy="443.3" r="2.10" fill="#ff0051"/>
<circle cx="332.2" cy="441.4" r="2.10" fill="#ff0058"/>
<circle cx="340.2" cy="440.1" r="2.10" fill="#008bfb"/>
<circle cx="340.5" cy="438.8" r="2.10" fill="#008bfb"/>
<circle cx="322.2" cy="441.4" r="2.10" fill="#ff0051"/>
<circle cx="340.9" cy="439.5" r="2.10" fill="#0086fa"/>
<circle cx="340.5" cy="449.3" r="2.10" fill="#0086fa"/>
<circle cx="340.6" cy="433.5" r="2.10" fill="#008bfb"/>
<circle cx="340.9" cy="465.6" r="2.10" fill="#008bfb"/>
<circle cx="340.7" cy="461.3" r="2.10" fill="#008bfb"/>
<circle cx="334.9" cy="459.2" r="2.10" fill="#d00093"/>
<circle cx="334.6" cy="460.8" r="2.10" fill="#4b63e3"/>
<circle cx="336.1" cy="465.6" r="2.10" fill="#9b24ad"/>
<circle cx="340.7" cy="469.8" r="2.10" fill="#0086fa"/>
<circle cx="336.1" cy="472.2" r="2.10" fill="#e60080"/>
<circle cx="342.6" cy="464.1" r="2.10" fill="#0086fa"/>
<circle cx="342.5" cy="465.6" r="2.10" fill="#008bfb"/>
<circle cx="335.0" cy="472.0" r="2.10" fill="#bb00a0"/>
<circle cx="333.4" cy="465.6" r="2.10" fill="#bb00a0"/>
<circle cx="333.0" cy="467.3" r="2.10" fill="#9b24ad"/>
<circle cx="336.4" cy="467.2" r="2.10" fill="#e60080"/>
<circle cx="336.4" cy="473.9" r="2.10" fill="#e60080"/>
<circle cx="336.1" cy="462.2" r="2.10" fill="#008bfb"/>
<circle cx="340.6" cy="467.0" r="2.10" fill="#008bfb"/>
<circle cx="340.9" cy="457.1" r="2.10" fill="#0086fa"/>
<circle cx="342.5" cy="462.7" r="2.10" fill="#0086fa"/>
<circle cx="341.0" cy="462.7" r="2.10" fill="#008bfb"/>
<circle cx="336.4" cy="457.3" r="2.10" fill="#e60080"/>
<circle cx="334.6" cy="464.0" r="2.10" fill="#e60080"/>
<circle cx="334.9" cy="465.6" r="2.10" fill="#9b24ad"/>
<circle cx="340.6" cy="472.6" r="2.10" fill="#0086fa"/>
<circle cx="340.6" cy="458.5" r="2.10" fill="#008bfb"/>
<circle cx="333.4" cy="462.1" r="2.10" fill="#9b24ad"/>
<circle cx="341.0" cy="459.9" r="2.10" fill="#008bfb"/>
<circle cx="340.9" cy="471.2" r="2.10" fill="#008bfb"/>
<circle cx="336.2" cy="458.9" r="2.10" fill="#d00093"/>
<circle cx="336.5" cy="470.5" r="2.10" fill="#e60080"/>
<circle cx="336.2" cy="468.9" r="2.10" fill="#9b24ad"/>
<circle cx="333.0" cy="463.8" r="2.10" fill="#d00093"/>
<circle cx="331.6" cy="465.6" r="2.10" fill="#ff0051"/>
<circle cx="341.0" cy="468.4" r="2.10" fill="#008bfb"/>
<circle cx="336.4" cy="463.9" r="2.10" fill="#9b24ad"/>
<circle cx="344.5" cy="464.3" r="2.10" fill="#0086fa"/>
<circle cx="334.9" cy="462.4" r="2.10" fill="#8443c6"/>
<circle cx="334.7" cy="470.4" r="2.10" fill="#e60080"/>
<circle cx="344.7" cy="466.9" r="2.10" fill="#008bfb"/>
<circle cx="336.5" cy="460.6" r="2.10" fill="#bb00a0"/>
<circle cx="340.6" cy="464.1" r="2.10" fill="#008bfb"/>
<circle cx="342.6" cy="468.5" r="2.10" fill="#008bfb"/>
<circle cx="342.6" cy="467.0" r="2.10" fill="#0086fa"/>
<circle cx="333.4" cy="469.1" r="2.10" fill="#9b24ad"/>
<circle cx="340.9" cy="474.1" r="2.10" fill="#008bfb"/>
<circle cx="335.0" cy="468.8" r="2.10" fill="#d00093"/>
<circle cx="334.6" cy="467.2" r="2.10" fill="#9b24ad"/>
<circle cx="344.5" cy="465.6" r="2.10" fill="#008bfb"/>
<circle cx="336.6" cy="468.1" r="2.10" fill="#008bfb"/>
<circle cx="336.3" cy="462.1" r="2.10" fill="#0075f0"/>
<circle cx="340.6" cy="488.3" r="2.10" fill="#ff0051"/>
<circle cx="336.5" cy="492.5" r="2.10" fill="#008bfb"/>
<circle cx="340.7" cy="482.7" r="2.10" fill="#ff0058"/>
<circle cx="336.6" cy="484.1" r="2.10" fill="#0086fa"/>
<circle cx="336.5" cy="481.3" r="2.10" fill="#0086fa"/>
<circle cx="336.6" cy="486.9" r="2.10" fill="#008bfb"/>
<circle cx="336.3" cy="491.1" r="2.10" fill="#008bfb"/>
<circle cx="341.0" cy="492.5" r="2.10" fill="#ff0058"/>
<circle cx="340.9" cy="484.1" r="2.10" fill="#ff0051"/>
<circle cx="336.3" cy="493.9" r="2.10" fill="#008bfb"/>
<circle cx="336.5" cy="489.7" r="2.10" fill="#008bfb"/>
<circle cx="340.9" cy="486.9" r="2.10" fill="#ff0051"/>
<circle cx="336.2" cy="488.3" r="2.10" fill="#008bfb"/>
<circle cx="340.7" cy="496.7" r="2.10" fill="#ff0051"/>
<circle cx="336.3" cy="485.5" r="2.10" fill="#008bfb"/>
<circle cx="341.0" cy="498.1" r="2.10" fill="#ff0051"/>
<circle cx="336.5" cy="495.3" r="2.10" fill="#008bfb"/>
<circle cx="336.3" cy="496.7" r="2.10" fill="#008bfb"/>
<circle cx="340.6" cy="491.1" r="2.10" fill="#ff0051"/>
<circle cx="336.6" cy="498.1" r="2.10" fill="#008bfb"/>
<circle cx="336.2" cy="482.7" r="2.10" fill="#008bfb"/>
<circle cx="340.6" cy="485.5" r="2.10" fill="#ff0051"/>
<circle cx="340.9" cy="495.3" r="2.10" fill="#ff0051"/>
<circle cx="341.0" cy="489.7" r="2.10" fill="#ff0051"/>
<circle cx="340.9" cy="481.3" r="2.10" fill="#ff0051"/>
<circle cx="340.6" cy="493.9" r="2.10" fill="#ff0051"/>
</g>
</svg></body></html>
